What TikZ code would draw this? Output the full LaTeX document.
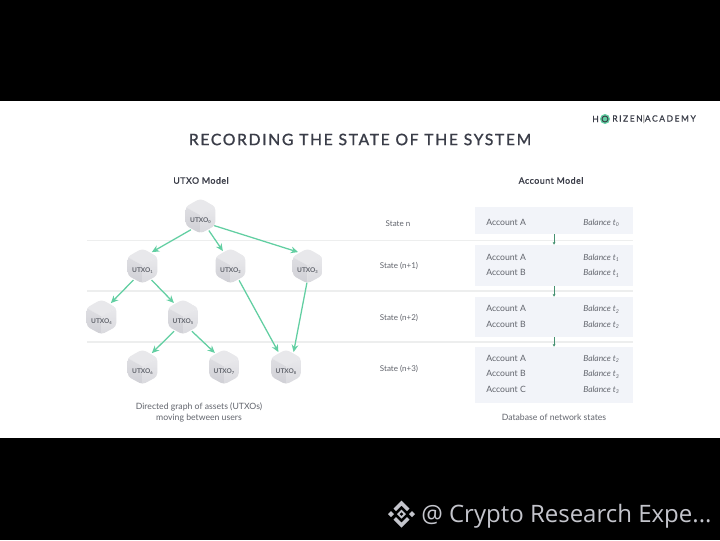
\documentclass[tikz,border=0pt]{standalone}
\usepackage{fontspec}
\setmainfont{Lato}
\newfontfamily\titlefont[LetterSpace=10.5,FakeBold=1.2]{Lato}
\newfontfamily\logofont[LetterSpace=18,FakeBold=0.8]{Lato}
\newfontfamily\headfont[LetterSpace=6,FakeBold=1.4]{Lato}
\newfontfamily\wmfont{Open Sans}
\definecolor{arrowgreen}{HTML}{62CFA2}
\definecolor{rulegray}{HTML}{EDEEEE}
\definecolor{panelblue}{HTML}{F2F4F9}
\definecolor{txtgray}{HTML}{62656D}
\definecolor{titlecol}{HTML}{3A3D48}
\definecolor{wmgray}{HTML}{C4C5CC}
\newcommand{\sbs}[1]{\raisebox{-.4ex}{\scalebox{.62}{#1}}}
\newcommand{\ut}[1]{\textbf{UTXO}\sbs{\textbf{#1}}}
\newcommand{\cubeshape}[1]{%
  \begin{scope}[shift={(#1)}]
    \begin{scope}
      \clip[rounded corners=2.7pt] (0,-17.5) -- (14.8,-9.5) -- (14.8,9.5) -- (0,17.5) -- (-14.8,9.5) -- (-14.8,-9.5) -- cycle;
      \fill[fill=cubetop] (0,-18) -- (15,-9) -- (0,0) -- (-15,-9) -- cycle;
      \shade[top color=cubeleft,bottom color=cubeleftb] (-15,-9) -- (0,-0.5) -- (0,18) -- (-15,18) -- cycle;
      \shade[top color=cuberight,bottom color=cuberightb] (15,-9) -- (0,-0.5) -- (0,18) -- (15,18) -- cycle;
    \end{scope}
  \end{scope}}
\definecolor{cubetop}{HTML}{E8E8EB}
\definecolor{cubeleft}{HTML}{DEDEE2}
\definecolor{cubeleftb}{HTML}{CFCFD5}
\definecolor{cuberight}{HTML}{E8E8EB}
\definecolor{cuberightb}{HTML}{D9D9DE}
\tikzset{
  x=.75pt,y=-.75pt,
  utxo/.style={circle,minimum size=24.75pt,inner sep=0pt,font=\fontsize{4.9}{6}\selectfont,text=txtgray},
  flow/.style={draw=arrowgreen,line width=.95pt,-{Stealth[length=5.5pt,width=5pt]}},
  sep/.style={draw=rulegray,line width=1.1pt},
  panel/.style={fill=panelblue,inner sep=0pt,minimum width=118.5pt},
  down/.style={draw=arrowgreen!70!black,line width=.4pt,-{Stealth[length=2.2pt,width=2.2pt]}},
  acc/.style={anchor=base west,inner sep=0pt,text=txtgray,font=\fontsize{6.5}{7}\selectfont},
  bal/.style={anchor=base west,inner sep=0pt,text=txtgray,font=\fontsize{6.3}{7}\selectfont\itshape},
  lab/.style={inner sep=0pt,text=txtgray,font=\fontsize{6}{7}\selectfont,align=center},
  captext/.style={inner sep=0pt,text=txtgray,font=\fontsize{6.5}{8.2}\selectfont,align=center},
  head/.style={inner sep=0pt,text=titlecol,font=\headfont\fontsize{6.6}{7}\selectfont},
}
\usetikzlibrary{arrows.meta}
\begin{document}
\begin{tikzpicture}
\useasboundingbox (0,0) rectangle (720,540);
\fill[black] (0,0) rectangle (720,540);
\fill[white] (0,101) rectangle (720,438);
% title and logo
\node[inner sep=0pt,text=titlecol,font=\titlefont\fontsize{11.8}{13}\selectfont] (title) at (360,139.5) {RECORDING THE STATE OF THE SYSTEM};
\node[inner sep=0pt,text=titlecol,font=\logofont\fontsize{6.4}{7}\selectfont] (logoh) at (595.5,119) {H};
\fill[arrowgreen] (605,119) circle[radius=5];
\draw[titlecol,line width=.7pt] (605,119) circle[radius=3];
\node[inner sep=0pt,anchor=west,text=titlecol,font=\logofont\fontsize{6.4}{7}\selectfont] (logot) at (612,119) {RIZEN{\color{gray}\textbar}ACADEMY};
% headers
\node[head] (umodel) at (201,180.5) {UTXO Model};
\node[head] (amodel) at (551,180.5) {Account Model};
% separators
\coordinate (s1a) at (87,240.5); \coordinate (s1b) at (633,240.5);
\coordinate (s2a) at (87,291); \coordinate (s2b) at (633,291);
\coordinate (s3a) at (87,342); \coordinate (s3b) at (633,342);
\draw[sep] (s1a) -- (s1b);
\draw[sep] (s2a) -- (s2b);
\draw[sep] (s3a) -- (s3b);
% cubes
\cubeshape{200.5,216}
\cubeshape{142.5,266}
\cubeshape{230.5,266}
\cubeshape{307.5,266}
\cubeshape{101.5,317}
\cubeshape{183,317}
\cubeshape{142.5,367}
\cubeshape{224,367}
\cubeshape{286,367}
\node[utxo,label={[yshift=-3.3pt,utxo,minimum size=0pt]center:\ut{0}}] (u0) at (200.5,216) {};
\node[utxo,label={[yshift=-3.3pt,utxo,minimum size=0pt]center:\ut{1}}] (u1) at (142.5,266) {};
\node[utxo,label={[yshift=-3.3pt,utxo,minimum size=0pt]center:\ut{2}}] (u2) at (230.5,266) {};
\node[utxo,label={[yshift=-3.3pt,utxo,minimum size=0pt]center:\ut{3}}] (u3) at (307.5,266) {};
\node[utxo,label={[yshift=-3.3pt,utxo,minimum size=0pt]center:\ut{4}}] (u4) at (101.5,317) {};
\node[utxo,label={[yshift=-3.3pt,utxo,minimum size=0pt]center:\ut{5}}] (u5) at (183,317) {};
\node[utxo,label={[yshift=-3.3pt,utxo,minimum size=0pt]center:\ut{6}}] (u6) at (142.5,367) {};
\node[utxo,label={[yshift=-3.3pt,utxo,minimum size=0pt]center:\ut{7}}] (u7) at (224,367) {};
\node[utxo,label={[yshift=-3.3pt,utxo,minimum size=0pt]center:\ut{8}}] (u8) at (286,367) {};
% flows
\draw[flow] (u0.-125) -- (u1.56);
\draw[flow] (u0.-60) -- (u2.117);
\draw[flow] (u0.-35) -- (u3.124);
\draw[flow] (u1.-123) -- (u4.56);
\draw[flow] (u1.-57) -- (u5.123);
\draw[flow] (u2.-59) -- (u8.117);
\draw[flow] (u3.-92) -- (u8.63);
\draw[flow] (u5.-122) -- (u6.56);
\draw[flow] (u5.-58) -- (u7.123);
% state labels
\node[lab] (st0) at (398,223.5) {State n};
\node[lab] (st1) at (399,265.5) {State (n+1)};
\node[lab] (st2) at (399,317.5) {State (n+2)};
\node[lab] (st3) at (399,369) {State (n+3)};
\node[captext] (capu) at (199,412) {Directed graph of assets (UTXOs)\\moving between users};
\node[captext] (capa) at (554,417) {Database of network states};
% panels
\node[panel,minimum height=20.25pt] (p1) at (554,220.5) {};
\node[panel,minimum height=30.75pt] (p2) at (554,265.5) {};
\node[panel,minimum height=30pt] (p3) at (554,317) {};
\node[panel,minimum height=42pt] (p4) at (554,375) {};
\draw[down] (p1.south) -- (p2.north);
\draw[down] (p2.south) -- (p3.north);
\draw[down] (p3.south) -- (p4.north);
% rows
\node[acc] (a1) at (486,225) {Account A};
\node[bal] (b1) at (583,225) {Balance t\sbs{0}};
\node[acc] (a2) at (486,260) {Account A};
\node[bal] (b2) at (583,260) {Balance t\sbs{1}};
\node[acc] (a3) at (486,275.5) {Account B};
\node[bal] (b3) at (583,275.5) {Balance t\sbs{1}};
\node[acc] (a4) at (486,311.5) {Account A};
\node[bal] (b4) at (583,311.5) {Balance t\sbs{2}};
\node[acc] (a5) at (486,327) {Account B};
\node[bal] (b5) at (583,327) {Balance t\sbs{2}};
\node[acc] (a6) at (486,361) {Account A};
\node[bal] (b6) at (583,361) {Balance t\sbs{2}};
\node[acc] (a7) at (486,376.5) {Account B};
\node[bal] (b7) at (583,376.5) {Balance t\sbs{3}};
\node[acc] (a8) at (486,392) {Account C};
\node[bal] (b8) at (583,392) {Balance t\sbs{3}};
% watermark
\begin{scope}[shift={(401.5,514)},wmgray]
  \fill (-13.5,0) -- (-10.5,-3) -- (-7.5,0) -- (-10.5,3) -- cycle;
  \fill (13.5,0) -- (10.5,-3) -- (7.5,0) -- (10.5,3) -- cycle;
  \fill[even odd rule] (0,-4.5) -- (4.5,0) -- (0,4.5) -- (-4.5,0) -- cycle (0,-2) -- (2,0) -- (0,2) -- (-2,0) -- cycle;
  \fill (0,-13.5) -- (8,-5.5) -- (5.5,-3) -- (0,-8.5) -- (-5.5,-3) -- (-8,-5.5) -- cycle;
  \fill (0,13.5) -- (8,5.5) -- (5.5,3) -- (0,8.5) -- (-5.5,3) -- (-8,5.5) -- cycle;
\end{scope}
\node[inner sep=0pt,anchor=west,text=wmgray,font=\wmfont\fontsize{18}{20}\selectfont] (wm) at (421,516) {@ Crypto Research Expe...};
\end{tikzpicture}
\end{document}
